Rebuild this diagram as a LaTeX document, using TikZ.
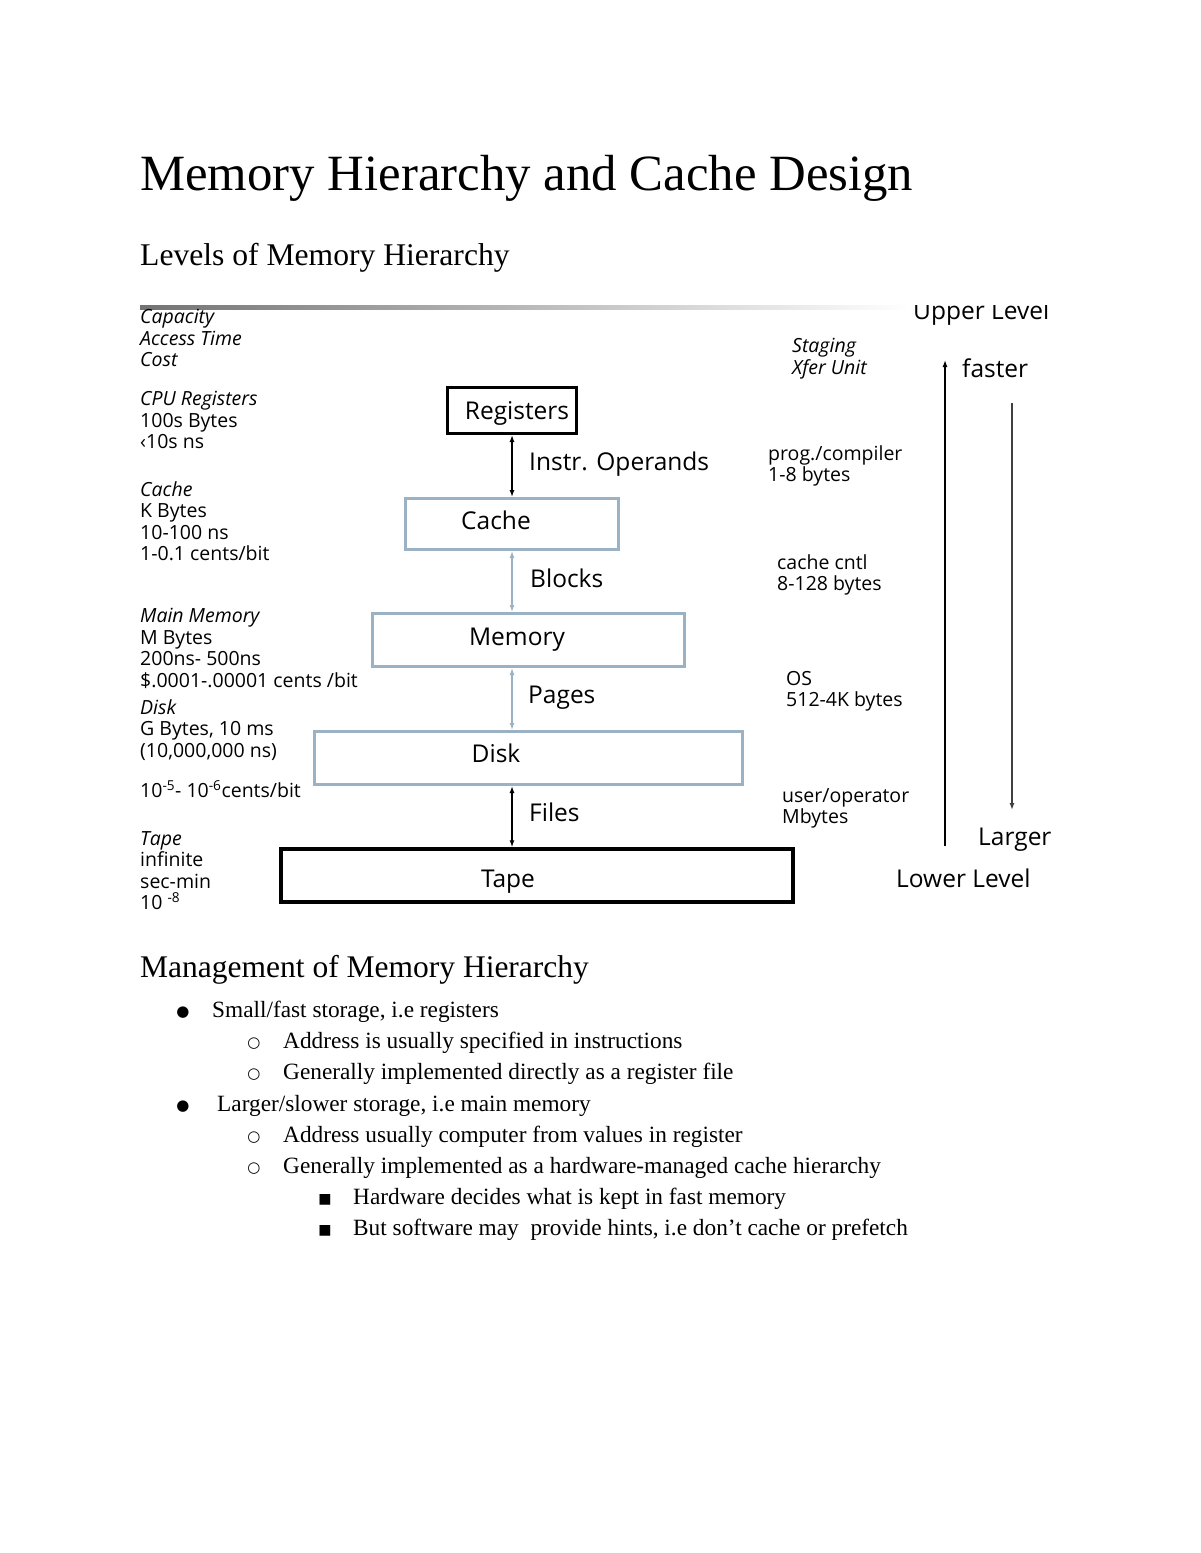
\documentclass[tikz,border=0pt]{standalone}
\usepackage{fontspec}
\setmainfont{Liberation Serif}
\newfontfamily\handfont{Open Sans}
\newfontfamily\symfont{DejaVu Sans}
\usetikzlibrary{arrows.meta,positioning}
\definecolor{levelgray}{RGB}{155,178,196}

\tikzset{
  hbox/.style={draw,line width=3pt,inner sep=0pt},
  lvltxt/.style={font=\handfont\fontsize{24.5}{28}\selectfont,anchor=base west,inner sep=0pt},
  sidetxt/.style={font=\handfont\fontsize{19.5}{21.6}\selectfont,align=left,anchor=north west,inner sep=0pt},
  xfer/.style={{Latex[length=7pt,width=5pt]}-{Latex[length=7pt,width=5pt]},line width=1.3pt},
  itemtxt/.style={font=\fontsize{23.3}{26}\selectfont,anchor=base west,inner sep=0pt},
  bulletmark/.style={font=\symfont\fontsize{15}{17}\selectfont,anchor=base,inner sep=0pt},
  squaremark/.style={font=\symfont\fontsize{14}{17}\selectfont,anchor=base,inner sep=0pt}
}

\begin{document}
\begin{tikzpicture}[x=1pt,y=-1pt]
\path[use as bounding box] (0,0) rectangle (1200,1553);

% headings
\node[font=\fontsize{50.8}{56}\selectfont,anchor=base west,inner sep=0pt] (title) at (140,190) {Memory Hierarchy and Cache Design};
\node[font=\fontsize{31.6}{34}\selectfont,anchor=base west,inner sep=0pt] (levels) at (140,265) {Levels of Memory Hierarchy};
\shade[left color=black!55,right color=white] (140,305.5) rectangle (910,309.5);

% left column: capacity / access time / cost
\node[sidetxt] (legend) at (140,309) {\itshape Capacity\\\itshape Access Time\\\itshape Cost};
\node[sidetxt] (regdata) at (140,391) {\itshape CPU Registers\\100s Bytes\\‹10s ns};
\node[sidetxt] (cachedata) at (140,481) {\itshape Cache\\K Bytes\\10-100 ns\\1-0.1 cents/bit};
\node[sidetxt] (memdata) at (140,608) {\itshape Main Memory\\M Bytes\\200ns- 500ns\\\$.0001-.00001 cents /bit};
\node[sidetxt] (diskdata) at (140,699) {\itshape Disk\\G Bytes, 10 ms\\(10,000,000 ns)};
\node[sidetxt] (diskcost) at (140,780) {10\textsuperscript{-5}- 10\textsuperscript{-6}cents/bit};
\node[sidetxt] (tapedata) at (140,831) {\itshape Tape\\infinite\\sec-min\\10 \textsuperscript{-8}};

% the levels
\node[hbox,minimum width=129,minimum height=46] (reg) at (512,410.5) {};
\node[hbox,draw=levelgray,minimum width=213,minimum height=51] (cache) at (512,524) {};
\node[hbox,draw=levelgray,minimum width=312,minimum height=53] (mem) at (528.5,640) {};
\node[hbox,draw=levelgray,minimum width=428,minimum height=53] (disk) at (528.5,758) {};
\node[hbox,line width=3.5pt,minimum width=512,minimum height=53] (tape) at (537,875.5) {};
\node[lvltxt,anchor=base] (regtxt) at (517,419) {Registers};
\node[lvltxt,anchor=base] (cachetxt) at (496,529) {Cache};
\node[lvltxt,anchor=base] (memtxt) at (517,645) {Memory};
\node[lvltxt,anchor=base] (disktxt) at (496,762) {Disk};
\node[lvltxt,anchor=base] (tapetxt) at (508,887) {Tape};

% transfers between levels
\draw[xfer] (reg.south) -- (reg.south |- cache.north);
\draw[xfer,draw=levelgray] (cache.south) -- (cache.south |- mem.north);
\draw[xfer,draw=levelgray] (mem.south -| cache.south) -- (cache.south |- disk.north);
\draw[xfer] (disk.south -| cache.south) -- (cache.south |- tape.north);
\node[lvltxt] (operands) at (529,470) {Instr. Operands};
\node[lvltxt] (blocks) at (530,587) {Blocks};
\node[lvltxt] (pages) at (528,703) {Pages};
\node[lvltxt] (files) at (529,821) {Files};

% staging / transfer unit
\node[sidetxt] (staging) at (792,338) {\itshape Staging\\\itshape Xfer Unit};
\node[sidetxt] (progunit) at (768,445) {prog./compiler\\1-8 bytes};
\node[sidetxt] (cntlunit) at (777,554) {cache cntl\\8-128 bytes};
\node[sidetxt] (osunit) at (786,671) {OS\\512-4K bytes};
\node[sidetxt] (userunit) at (782,788) {user/operator\\Mbytes};

% upper / lower level
\begin{scope}
\clip (890,305) rectangle (1080,340);
\node[lvltxt] (upper) at (913,319) {Upper Level};
\end{scope}
\coordinate (upbot) at (945,846);
\coordinate (uptop) at (945,360);
\coordinate (downtop) at (1012,403);
\coordinate (downbot) at (1012,810);
\draw[-{Latex[length=7pt,width=5pt]},line width=1.3pt] (upbot) -- (uptop);
\draw[-{Latex[length=7pt,width=5pt]},line width=1.3pt,black!75] (downtop) -- (downbot);
\node[lvltxt] (faster) at (962,377) {faster};
\node[lvltxt] (larger) at (978,845) {Larger};
\node[lvltxt] (lower) at (896,887) {Lower Level};

% management
\node[font=\fontsize{31.5}{34}\selectfont,anchor=base west,inner sep=0pt] (mgmt) at (140,977) {Management of Memory Hierarchy};
\node[bulletmark] (b1) at (183,1016) {●};
\node[itemtxt] (i1) at (212,1017) {Small/fast storage, i.e registers};
\node[bulletmark] (c1) at (254,1047) {○};
\node[itemtxt] (i2) at (283,1048) {Address is usually specified in instructions};
\node[bulletmark] (c2) at (254,1078) {○};
\node[itemtxt] (i3) at (283,1079) {Generally implemented directly as a register file};
\node[bulletmark] (b2) at (183,1110) {●};
\node[itemtxt] (i4) at (217,1111) {Larger/slower storage, i.e main memory};
\node[bulletmark] (c3) at (254,1141) {○};
\node[itemtxt] (i5) at (283,1142) {Address usually computer from values in register};
\node[bulletmark] (c4) at (254,1172) {○};
\node[itemtxt] (i6) at (283,1173) {Generally implemented as a hardware-managed cache hierarchy};
\node[squaremark] (s1) at (325,1203) {■};
\node[itemtxt] (i7) at (353,1204) {Hardware decides what is kept in fast memory};
\node[squaremark] (s2) at (325,1234) {■};
\node[itemtxt] (i8) at (353,1235) {But software may\ \ provide hints, i.e don't cache or prefetch};
\end{tikzpicture}
\end{document}
